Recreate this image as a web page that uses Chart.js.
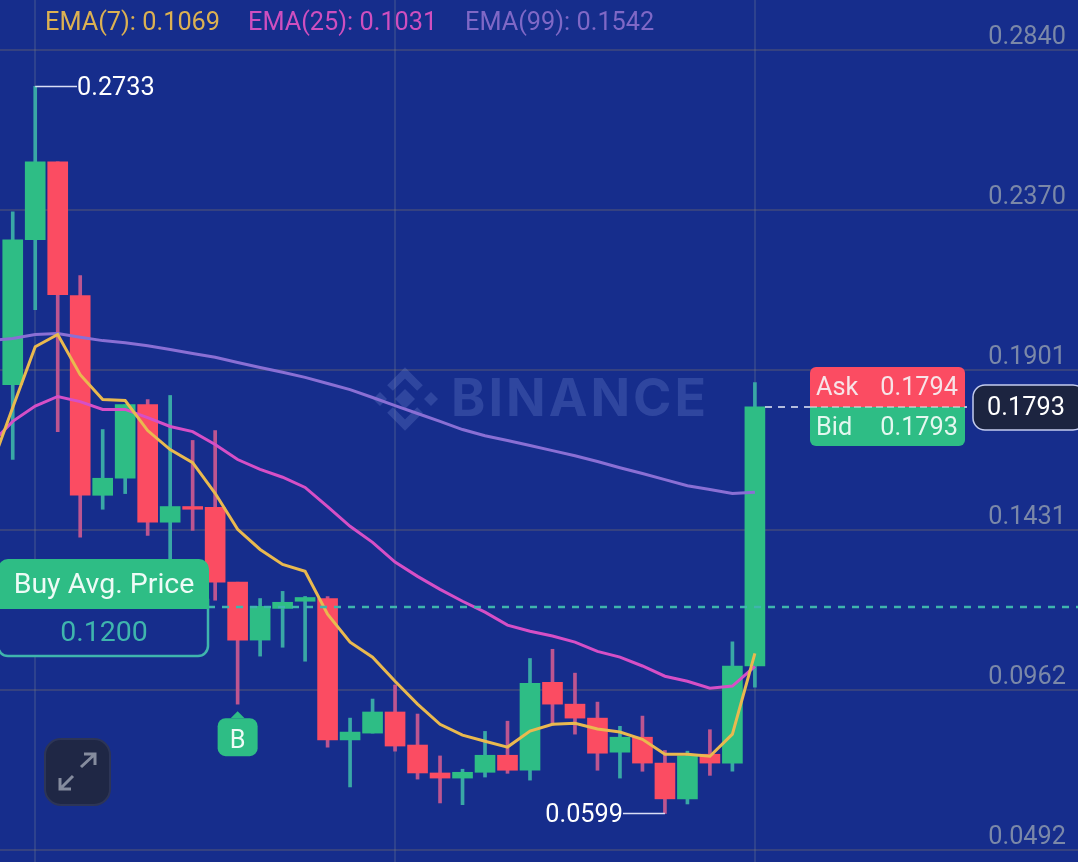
<!DOCTYPE html>
<html>
<head>
<meta charset="utf-8">
<title>EMA candles</title>
<script src="https://cdn.jsdelivr.net/npm/chart.js@4"></script>
<style>
html, body { margin: 0; padding: 0; width: 1078px; height: 862px; overflow: hidden; background: #162d8c; }
#chart { position: absolute; left: -21px; top: 0; }
</style>
</head>
<body>
<canvas id="chart" width="1102" height="862"></canvas>
<script>
// first slot sits off screen, only the EMA lines have a value there
var opens  = [null, 0.1858, 0.2283, 0.2512, 0.2119, 0.1533, 0.1583, 0.1799, 0.1454, 0.1500, 0.1498, 0.1278, 0.1108, 0.1201, 0.1222, 0.1230, 0.0815, 0.0835, 0.0897, 0.0800, 0.0718, 0.0703, 0.0720, 0.0770, 0.0726, 0.0984, 0.0920, 0.0879, 0.0779, 0.0823, 0.0747, 0.0642, 0.0773, 0.0747, 0.1032];
var closes = [null, 0.2283, 0.2512, 0.2122, 0.1533, 0.1583, 0.1799, 0.1454, 0.1500, 0.1492, 0.1278, 0.1108, 0.1207, 0.1219, 0.1233, 0.0815, 0.0838, 0.0897, 0.0797, 0.0718, 0.0703, 0.0720, 0.0770, 0.0726, 0.0981, 0.0920, 0.0879, 0.0776, 0.0823, 0.0747, 0.0642, 0.0768, 0.0747, 0.1032, 0.1793];
var highs  = [null, 0.2365, 0.2733, 0.2512, 0.2178, 0.1726, 0.1799, 0.1814, 0.1826, 0.1694, 0.1723, 0.1278, 0.1230, 0.1251, 0.1236, 0.1236, 0.0879, 0.0935, 0.0976, 0.0891, 0.0768, 0.0729, 0.0840, 0.0870, 0.1054, 0.1081, 0.1011, 0.0926, 0.0855, 0.0885, 0.0784, 0.0782, 0.0845, 0.1103, 0.1864];
var lows   = [null, 0.1638, 0.2078, 0.1720, 0.1410, 0.1492, 0.1538, 0.1415, 0.1345, 0.1430, 0.1225, 0.0920, 0.1061, 0.1087, 0.1046, 0.0794, 0.0677, 0.0835, 0.0782, 0.0700, 0.0630, 0.0625, 0.0706, 0.0717, 0.0697, 0.0858, 0.0832, 0.0726, 0.0703, 0.0723, 0.0599, 0.0627, 0.0711, 0.0723, 0.0970];

var ema7  = [0.1609, 0.1791, 0.1969, 0.2005, 0.1887, 0.1814, 0.1811, 0.1723, 0.1667, 0.1629, 0.1539, 0.1433, 0.1374, 0.1330, 0.1310, 0.1184, 0.1102, 0.1058, 0.0987, 0.0920, 0.0861, 0.0829, 0.0811, 0.0794, 0.0841, 0.0861, 0.0864, 0.0847, 0.0838, 0.0817, 0.0773, 0.0773, 0.0767, 0.0832, 0.1069];
var ema25 = [0.1682, 0.1750, 0.1795, 0.1823, 0.1808, 0.1785, 0.1785, 0.1761, 0.1735, 0.1720, 0.1682, 0.1638, 0.1609, 0.1586, 0.1556, 0.1500, 0.1442, 0.1395, 0.1337, 0.1295, 0.1257, 0.1222, 0.1190, 0.1152, 0.1134, 0.1120, 0.1102, 0.1075, 0.1058, 0.1032, 0.1002, 0.0987, 0.0967, 0.0973, 0.1031];
var ema99 = [0.1987, 0.1993, 0.2005, 0.2008, 0.1997, 0.1987, 0.1981, 0.1972, 0.1961, 0.1949, 0.1938, 0.1923, 0.1908, 0.1894, 0.1879, 0.1861, 0.1843, 0.1820, 0.1796, 0.1773, 0.1750, 0.1726, 0.1708, 0.1694, 0.1679, 0.1664, 0.1649, 0.1632, 0.1614, 0.1597, 0.1579, 0.1561, 0.1550, 0.1538, 0.1542];

var priceTicks = [0.2840, 0.2370, 0.1901, 0.1431, 0.0962, 0.0492];
var gridCandles = [2, 18, 34];
var highCandle = 2, highPrice = 0.2733;
var lowCandle = 30, lowPrice = 0.0599;
var lastPrice = 0.1793, askPrice = 0.1794, bidPrice = 0.1793;
var avgLine = 0.1204, avgPrice = 0.1200;
var buyCandle = 11, buyPrice = 0.0920;

var categories = [];
for (var n = 0; n < 49; n++) categories.push(n);

var GREEN = '#2ebd85', RED = '#fb4c62';
var FONT = 'Roboto, "Noto Sans", sans-serif';
var TEXT_SIZE = 25.3;
var BOX_SIZE = 28.5;

function isUp(i) { return closes[i] >= opens[i]; }
function rr(c, x, y, w, h, r) {
    c.beginPath();
    c.roundRect(x, y, w, h, r);
}
function label(c, txt, x, y, color, size, align) {
    c.font = size + 'px ' + FONT;
    c.fillStyle = color;
    c.textAlign = align || 'left';
    c.textBaseline = 'middle';
    c.fillText(txt, x, y + 2);
}

// the watermark goes under the candles
var watermark = {
    id: 'watermark',
    beforeDatasetsDraw: function (chart) {
        var c = chart.ctx;
        c.save();
        c.translate(21, 0);
        c.fillStyle = 'rgba(130,150,220,0.24)';
        var d = function (x, y, s) {
            c.beginPath();
            c.moveTo(x, y - s); c.lineTo(x + s, y); c.lineTo(x, y + s); c.lineTo(x - s, y);
            c.closePath(); c.fill();
        };
        d(405, 399, 10);
        d(380, 399, 7);
        d(431, 399, 7);
        c.strokeStyle = 'rgba(130,150,220,0.24)';
        c.lineWidth = 8;
        c.beginPath(); c.moveTo(390, 388); c.lineTo(405, 373); c.lineTo(420, 388); c.stroke();
        c.beginPath(); c.moveTo(390, 410); c.lineTo(405, 425); c.lineTo(420, 410); c.stroke();
        c.font = 'bold 52px Inter, sans-serif';
        c.letterSpacing = '3px';
        c.textAlign = 'left';
        c.textBaseline = 'middle';
        c.fillText('BINANCE', 451, 400);
        c.restore();
    }
};

var overlay = {
    id: 'overlay',
    afterDatasetsDraw: function (chart) {
        var c = chart.ctx, xs = chart.scales.x, ys = chart.scales.y;
        var off = 21;
        c.save();
        c.translate(off, 0);

        // legend
        label(c, 'EMA(7): ' + ema7[34].toFixed(4), 45, 22, '#dcb152', TEXT_SIZE);
        label(c, 'EMA(25): ' + ema25[34].toFixed(4), 248, 22, '#cf4fbf', TEXT_SIZE);
        label(c, 'EMA(99): ' + ema99[34].toFixed(4), 465, 22, '#7f68c6', TEXT_SIZE);

        // average buy price line
        var ya = Math.round(ys.getPixelForValue(avgLine));
        c.strokeStyle = '#3fb5ad';
        c.lineWidth = 2.5;
        c.setLineDash([7, 7]);
        c.beginPath(); c.moveTo(208, ya); c.lineTo(1078, ya); c.stroke();
        c.setLineDash([]);

        // high / low markers
        var yh = ys.getPixelForValue(highPrice), xh = xs.getPixelForValue(highCandle) - off;
        c.strokeStyle = '#d9def5';
        c.lineWidth = 1.5;
        c.beginPath(); c.moveTo(xh, yh); c.lineTo(77, yh); c.stroke();
        label(c, highPrice.toFixed(4), 77, yh, '#ffffff', TEXT_SIZE);
        var yl = ys.getPixelForValue(lowPrice), xl = xs.getPixelForValue(lowCandle) - off;
        c.beginPath(); c.moveTo(623, yl); c.lineTo(xl, yl); c.stroke();
        label(c, lowPrice.toFixed(4), 623, yl, '#ffffff', TEXT_SIZE, 'right');

        // buy average price box
        c.fillStyle = '#162d8c';
        rr(c, -2, 600, 210, 56, [0, 0, 10, 10]); c.fill();
        c.strokeStyle = '#3fb5ad';
        c.lineWidth = 2.5;
        c.stroke();
        c.fillStyle = GREEN;
        rr(c, -2, 559, 211, 50, [10, 10, 0, 0]); c.fill();
        label(c, 'Buy Avg. Price', 104, 584, '#eefbf6', BOX_SIZE, 'center');
        label(c, avgPrice.toFixed(4), 104, 632, '#3fb5ad', BOX_SIZE, 'center');

        // last price line and ask / bid
        var yp = Math.round(ys.getPixelForValue(lastPrice));
        c.strokeStyle = '#e8ebf7';
        c.lineWidth = 1.5;
        c.setLineDash([7, 6]);
        c.beginPath(); c.moveTo(765, yp); c.lineTo(972, yp); c.stroke();
        c.setLineDash([]);
        c.fillStyle = RED;
        rr(c, 810, yp - 40, 155, 40, [6, 6, 0, 0]); c.fill();
        c.fillStyle = GREEN;
        rr(c, 810, yp, 155, 39, [0, 0, 6, 6]); c.fill();
        c.strokeStyle = '#e8ebf7';
        c.lineWidth = 1;
        c.setLineDash([7, 4]);
        c.beginPath(); c.moveTo(810, yp); c.lineTo(965, yp); c.stroke();
        c.setLineDash([]);
        label(c, 'Ask', 816, yp - 20, '#f7e4e8', TEXT_SIZE);
        label(c, askPrice.toFixed(4), 958, yp - 20, '#f7e4e8', TEXT_SIZE, 'right');
        label(c, 'Bid', 816, yp + 20, '#e4f7ef', TEXT_SIZE);
        label(c, bidPrice.toFixed(4), 958, yp + 20, '#e4f7ef', TEXT_SIZE, 'right');

        c.fillStyle = '#1c2440';
        rr(c, 973, yp - 22, 112, 45, 12); c.fill();
        c.strokeStyle = '#c3cbee';
        c.lineWidth = 1.5;
        c.stroke();
        label(c, lastPrice.toFixed(4), 1026, yp, '#ffffff', TEXT_SIZE, 'center');

        // buy marker under its candle
        var xb = xs.getPixelForValue(buyCandle) - off;
        var yb = ys.getPixelForValue(buyPrice) + 7;
        c.fillStyle = GREEN;
        c.beginPath();
        c.moveTo(xb, yb); c.lineTo(xb + 7, yb + 7); c.lineTo(xb - 7, yb + 7); c.closePath(); c.fill();
        rr(c, xb - 20, yb + 7, 40, 38, 8); c.fill();
        label(c, 'B', xb, yb + 29, '#eefbf6', TEXT_SIZE, 'center');

        // expand button
        c.fillStyle = '#1f2745';
        rr(c, 45, 739, 65, 66, 16); c.fill();
        c.strokeStyle = '#2d3556';
        c.lineWidth = 2;
        c.stroke();
        c.strokeStyle = '#858c9e';
        c.lineWidth = 3;
        c.beginPath();
        c.moveTo(81, 767); c.lineTo(95, 754);
        c.moveTo(84, 754); c.lineTo(95, 754); c.lineTo(95, 765);
        c.moveTo(73, 776); c.lineTo(60, 789);
        c.moveTo(60, 778); c.lineTo(60, 789); c.lineTo(71, 789);
        c.stroke();

        c.restore();
    }
};

var ctx = document.getElementById('chart').getContext('2d');
var candleChart = new Chart(ctx, {
    type: 'bar',
    data: {
        labels: categories,
        datasets: [{
            label: 'wicks',
            data: highs.map(function (h, i) { return h === null ? null : [lows[i], h]; }),
            backgroundColor: opens.map(function (o, i) { return isUp(i) ? '#39a8a6' : '#bd5590'; }),
            barThickness: 3,
            grouped: false,
            order: 3
        }, {
            label: 'bodies',
            data: opens.map(function (o, i) { return o === null ? null : [o, closes[i]]; }),
            backgroundColor: opens.map(function (o, i) { return isUp(i) ? GREEN : RED; }),
            barThickness: 20,
            grouped: false,
            order: 2
        }, {
            type: 'line', label: 'EMA(99)', data: ema99,
            borderColor: '#8a6fd4', borderWidth: 3, pointRadius: 0, order: 1
        }, {
            type: 'line', label: 'EMA(25)', data: ema25,
            borderColor: '#d64fc6', borderWidth: 3, pointRadius: 0, order: 1
        }, {
            type: 'line', label: 'EMA(7)', data: ema7,
            borderColor: '#e9b94f', borderWidth: 3, pointRadius: 0, order: 0
        }]
    },
    options: {
        responsive: false,
        maintainAspectRatio: false,
        animation: false,
        layout: { padding: 0 },
        plugins: {
            legend: { display: false },
            tooltip: { enabled: false }
        },
        scales: {
            x: {
                grid: {
                    offset: false,
                    drawTicks: false,
                    lineWidth: 2,
                    color: function (c) {
                        return gridCandles.indexOf(c.index) >= 0 ? 'rgba(130,140,150,0.22)' : 'rgba(0,0,0,0)';
                    }
                },
                border: { display: false },
                ticks: { display: false, autoSkip: false }
            },
            y: {
                position: 'right',
                min: 0.04567,
                max: 0.29867,
                afterBuildTicks: function (axis) {
                    axis.ticks = priceTicks.map(function (v) { return { value: v }; });
                },
                // mirrored labels must not eat into the plot area
                afterFit: function (axis) {
                    axis.width = 0;
                    axis.paddingTop = 0;
                    axis.paddingBottom = 0;
                    axis.paddingLeft = 0;
                    axis.paddingRight = 0;
                },
                grid: { color: 'rgba(150,130,90,0.25)', lineWidth: 2, drawTicks: false },
                border: { display: false },
                ticks: {
                    mirror: true,
                    padding: -15,
                    labelOffset: -12,
                    color: '#7b88a8',
                    font: { family: 'Roboto', size: 25.3 },
                    callback: function (v) { return v.toFixed(4); }
                }
            }
        }
    },
    plugins: [watermark, overlay]
});
</script>
</body>
</html>
